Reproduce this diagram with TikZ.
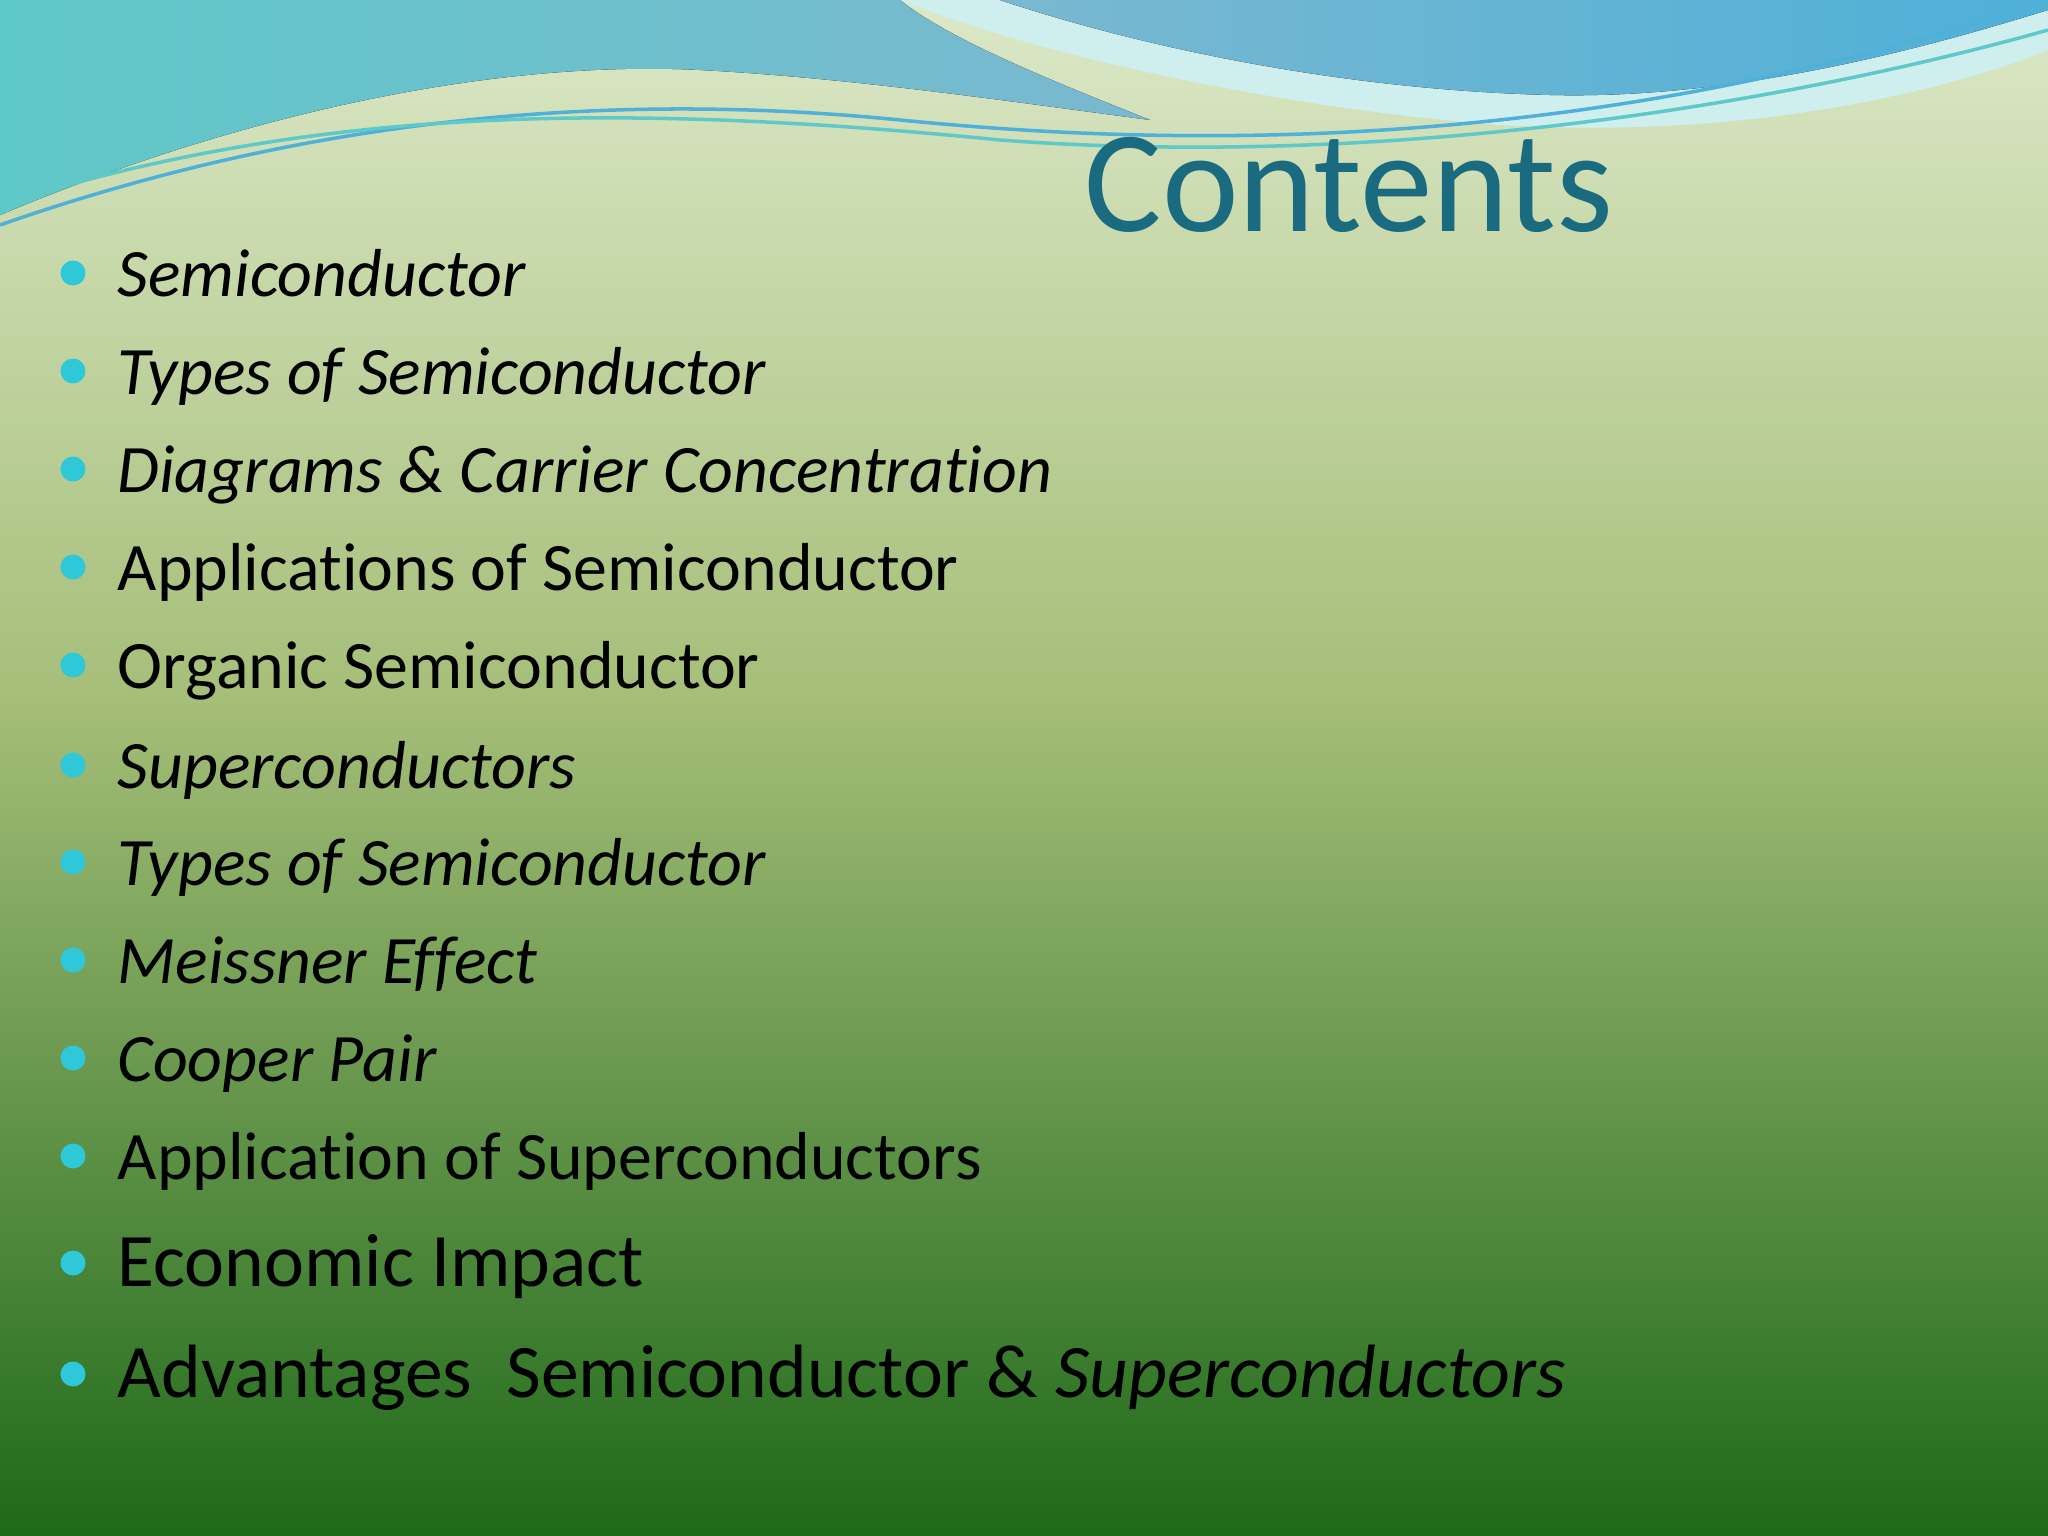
\documentclass[tikz,border=0pt]{standalone}
\usepackage{fontspec}
\setmainfont{Carlito}[Ligatures={NoCommon,NoRare}]
\definecolor{titlec}{HTML}{1A6A80}
\definecolor{bul}{HTML}{2EC8D8}
\definecolor{wavea}{HTML}{5FC8C8}
\definecolor{waveb}{HTML}{7AB8D0}
\definecolor{wavec}{HTML}{4FB0D8}
\begin{document}
\begin{tikzpicture}[x=0.01cm,y=-0.01cm,
  item/.style={anchor=base west,inner sep=0pt,font=\fontsize{19.3}{22}\selectfont,text=black},
  bigitem/.style={anchor=base west,inner sep=0pt,font=\fontsize{21.5}{26}\selectfont,text=black},
  dot/.style={circle,fill=bul,inner sep=0pt,minimum size=0.25cm}]
\useasboundingbox (0,0) rectangle (2048,1536);
\fill[top color={rgb,255:red,220;green,232;blue,200},bottom color={rgb,255:red,165;green,190;blue,120}] (0,0) rectangle (2048,700);
\fill[top color={rgb,255:red,165;green,190;blue,120},bottom color={rgb,255:red,30;green,105;blue,25}] (0,699) rectangle (2048,1536);
% waves
\fill[left color=wavea,right color=waveb] (0,0) -- (0,215) .. controls (250,110) and (500,60) .. (700,70) .. controls (850,78) and (1000,100) .. (1150,120) .. controls (1050,80) and (950,40) .. (900,0) -- cycle;
\fill[white!70!wavea] (900,0) .. controls (1050,60) and (1300,110) .. (1500,125) .. controls (1750,140) and (1950,90) .. (2048,50) -- (2048,0) -- cycle;
\fill[left color=waveb,right color=wavec] (1000,0) .. controls (1150,50) and (1350,90) .. (1550,95) .. controls (1750,100) and (1950,40) .. (2048,10) -- (2048,0) -- cycle;
\draw[wavec,line width=1pt] (0,225) .. controls (300,120) and (600,90) .. (900,120) .. controls (1200,150) and (1600,150) .. (2048,0);
\draw[wavea,line width=1pt] (0,205) .. controls (300,110) and (600,100) .. (1000,140) .. controls (1400,170) and (1800,100) .. (2048,30);
\node[anchor=base west,inner sep=0pt,font=\fontsize{41.3}{50}\selectfont,text=titlec] (title) at (1084,231) {Contents};
\foreach \y/\t/\s [count=\i] in {
 296/{\itshape Semiconductor}/item,
 394/{\itshape Types of Semiconductor}/item,
 492/{\itshape Diagrams \& Carrier Concentration}/item,
 590/{Applications of Semiconductor}/item,
 688/{Organic Semiconductor}/item,
 788/{\itshape Superconductors}/item,
 885/{\itshape Types of Semiconductor}/item,
 983/{\itshape Meissner Effect}/item,
 1081/{\itshape Cooper Pair}/item,
 1179/{Application of Superconductors}/item,
 1286/{Economic Impact}/bigitem,
 1397/{Advantages\ \ Semiconductor \& \textit{Superconductors}}/bigitem}{
 \node[\s] (t\i) at (117,\y) {\t};
 \node[dot] (b\i) at (73,\y-23) {};
}
\end{tikzpicture}
\end{document}
